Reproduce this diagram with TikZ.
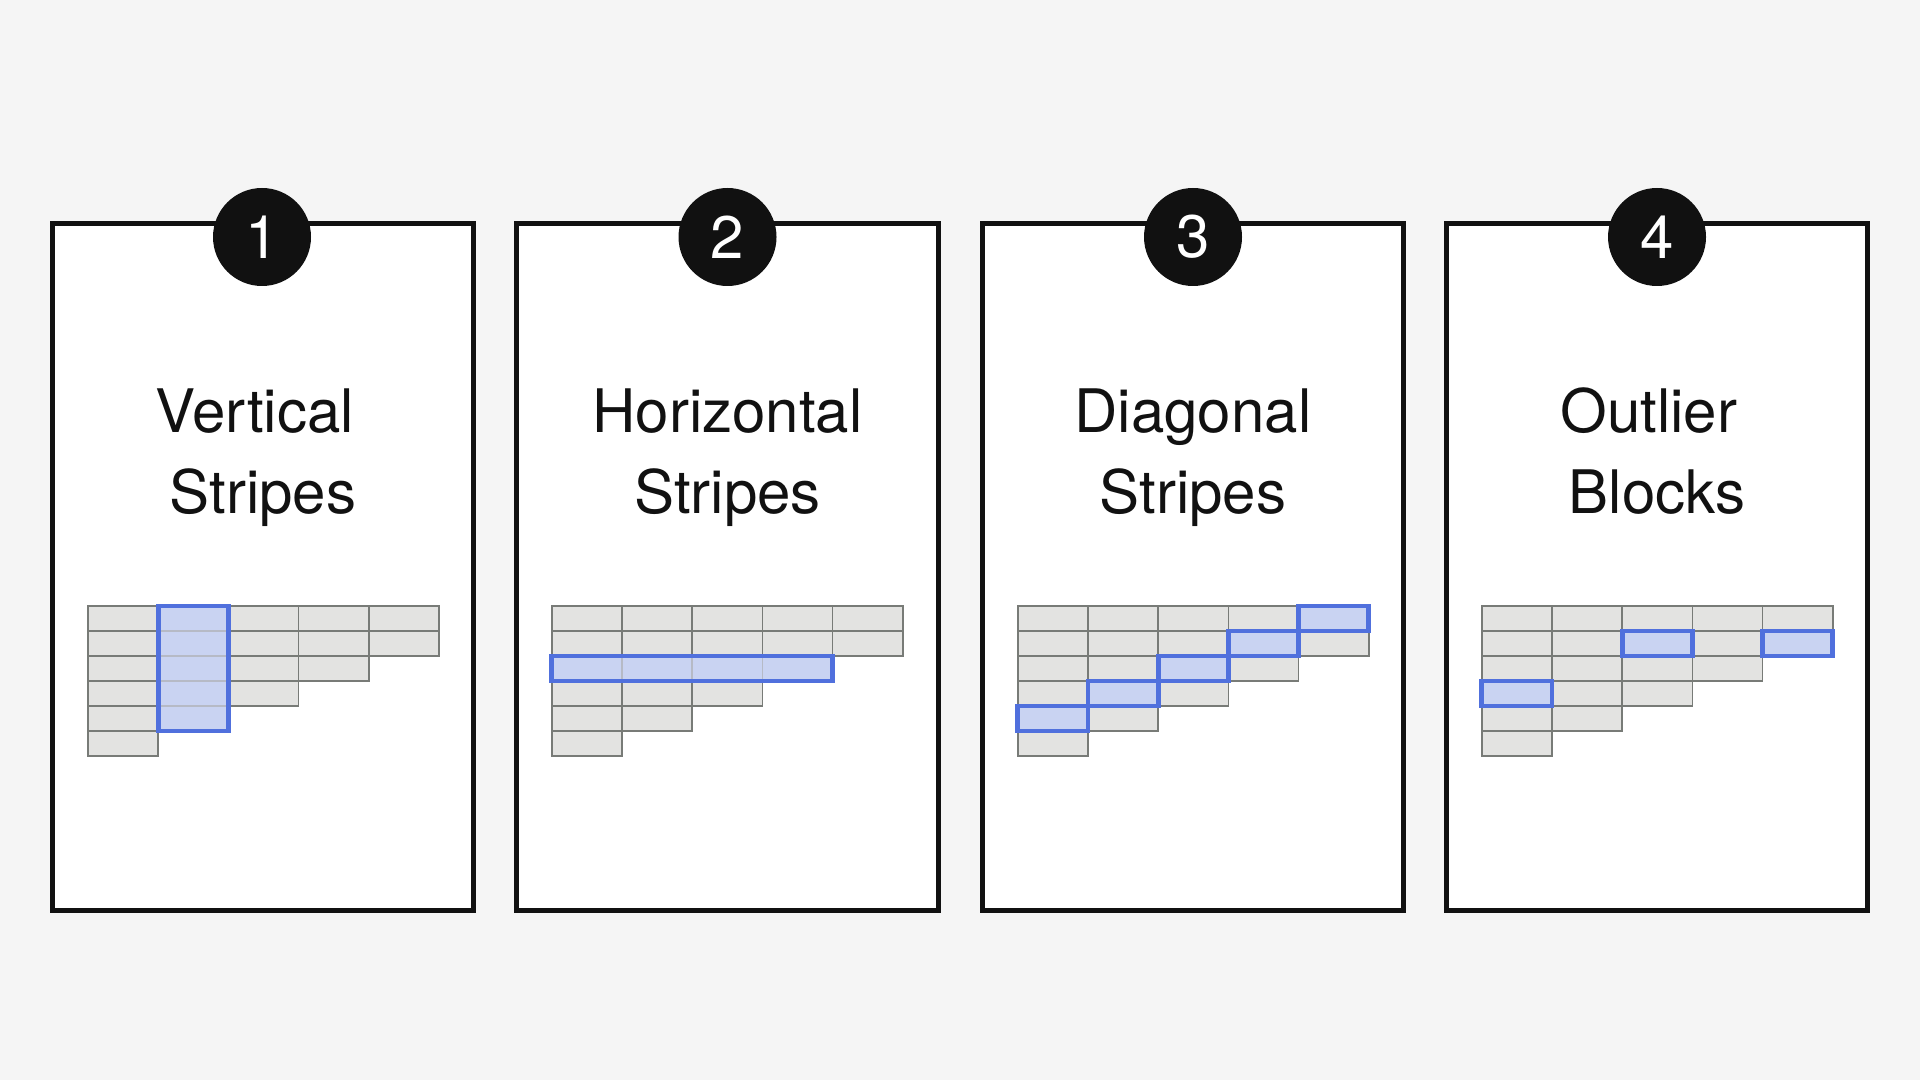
\documentclass[tikz,border=0pt]{standalone}
\usepackage{fontspec}
\setmainfont{TeX Gyre Heros}
\definecolor{bg}{HTML}{F5F5F5}
\definecolor{ink}{HTML}{111111}
\definecolor{cellfill}{HTML}{E3E3E1}
\definecolor{cellline}{HTML}{787B77}
\definecolor{hlfill}{HTML}{C9D3F2}
\definecolor{hlline}{HTML}{5070DD}
\definecolor{hlinner}{HTML}{B6BAC6}
\newcommand\stairgrid{%
  \foreach \rr in {1,...,6}{%
    \pgfmathtruncatemacro\ncol{min(5,7-\rr)}%
    \foreach \cc in {1,...,\ncol}{%
      \draw[cell] (\cc-1,\rr-1) rectangle (\cc,\rr);
    }%
  }%
}
\begin{document}
\begin{tikzpicture}[x=0.5pt,y=-0.5pt,
  panel/.style={draw=ink,line width=2.5pt,fill=white},
  badge/.style={circle,fill=ink,minimum size=49pt,inner sep=0pt,text=white,font=\fontsize{30}{30}\selectfont},
  title/.style={anchor=base,text=ink,font=\fontsize{30}{36}\selectfont,inner sep=0pt},
  cell/.style={fill=cellfill,draw=cellline,line width=0.8pt},
  hlcell/.style={fill=hlfill,draw=hlinner,line width=0.8pt},
  hlbox/.style={draw=hlline,line width=2.4pt},
  hlsolo/.style={fill=hlfill,draw=hlline,line width=2.4pt},
  gridscope/.style={shift={(#1,-303pt)},x=35.1pt,y=-12.5pt}
]
\fill[bg] (0,0) rectangle (1920,1080);
\useasboundingbox (0,0) rectangle (1920,1080);

% panels
\draw[panel] (52.5,223.2) rectangle (473.5,910);
\draw[panel] (516.5,223.2) rectangle (938.5,910);
\draw[panel] (982.5,223.2) rectangle (1403.5,910);
\draw[panel] (1446.5,223.2) rectangle (1867.5,910);

% badges
\node[badge] (b1) at (262,237) {1};
\node[badge] (b2) at (727.5,237) {2};
\node[badge] (b3) at (1193,237) {3};
\node[badge] (b4) at (1657,237) {4};

% titles
\node[title] (t1a) at (263,432.6) {Vertical\kern0.278em};
\node[title] (t1b) at (263,513) {Stripes};
\node[title] (t2a) at (727.5,432.6) {Horizontal};
\node[title] (t2b) at (727.5,513) {Stripes};
\node[title] (t3a) at (1193,432.6) {Diagonal};
\node[title] (t3b) at (1193,513) {Stripes};
\node[title] (t4a) at (1657,432.6) {Outlier\kern0.278em};
\node[title] (t4b) at (1657,513) {Blocks};

% grid 1: vertical stripe
\begin{scope}[gridscope=44pt]
  \stairgrid
  \foreach \rr in {1,...,5}{\draw[hlcell] (1,\rr-1) rectangle (2,\rr);}
  \draw[hlbox] (1,0) rectangle (2,5);
\end{scope}

% grid 2: horizontal stripe
\begin{scope}[gridscope=275.85pt]
  \stairgrid
  \foreach \cc in {1,...,4}{\draw[hlcell] (\cc-1,2) rectangle (\cc,3);}
  \draw[hlbox] (0,2) rectangle (4,3);
\end{scope}

% grid 3: diagonal stripe
\begin{scope}[gridscope=508.85pt]
  \stairgrid
  \draw[hlsolo] (0,4) rectangle (1,5);
  \draw[hlsolo] (1,3) rectangle (2,4);
  \draw[hlsolo] (2,2) rectangle (3,3);
  \draw[hlsolo] (3,1) rectangle (4,2);
  \draw[hlsolo] (4,0) rectangle (5,1);
\end{scope}

% grid 4: outlier blocks
\begin{scope}[gridscope=740.85pt]
  \stairgrid
  \draw[hlsolo] (2,1) rectangle (3,2);
  \draw[hlsolo] (4,1) rectangle (5,2);
  \draw[hlsolo] (0,3) rectangle (1,4);
\end{scope}
\end{tikzpicture}
\end{document}
